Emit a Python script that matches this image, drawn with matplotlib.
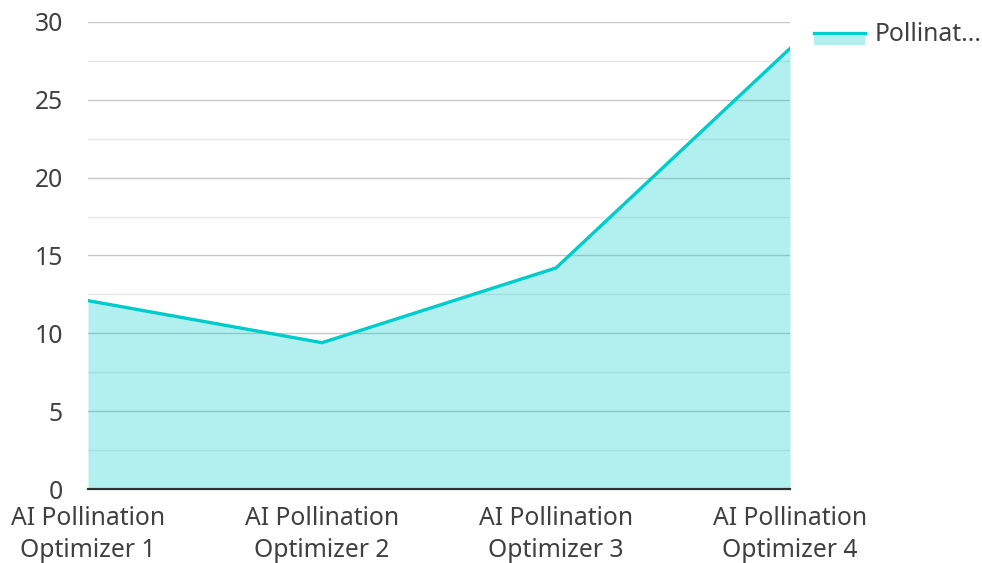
import matplotlib
matplotlib.use("Agg")
import matplotlib.pyplot as plt
from matplotlib.legend_handler import HandlerBase
from matplotlib.patches import Rectangle
from matplotlib.lines import Line2D
from matplotlib.ticker import MultipleLocator

categories = ["AI Pollination\nOptimizer 1", "AI Pollination\nOptimizer 2",
              "AI Pollination\nOptimizer 3", "AI Pollination\nOptimizer 4"]
values = [12.1, 9.4, 14.2, 28.3]
series_name = "Pollinat..."

line_col = "#00cccc"
text_col = "#404040"
fs = 17.8

plt.rcParams['font.family'] = ['Noto Sans', 'DejaVu Sans']


class FillHandler(HandlerBase):
    # legend key: line on top of a filled strip, like the area below the series
    def create_artists(self, legend, orig, xd, yd, w, h, fontsize, trans):
        top = yd + h * 0.45
        bot = yd - h * 0.25
        r = Rectangle((xd, bot), w, top - bot,
                      facecolor=line_col, alpha=0.3, edgecolor="none", transform=trans)
        l = Line2D([xd, xd + w], [top, top], color=line_col, lw=2.4, transform=trans)
        return [r, l]


fig = plt.figure(figsize=(9.82, 5.63), dpi=100)
ax = fig.add_axes([0.0896, 0.1314, 0.7149, 0.8296])

x = list(range(len(values)))
ax.fill_between(x, values, 0, color=line_col, alpha=0.3, lw=0, zorder=3)
line, = ax.plot(x, values, color=line_col, lw=2.4, zorder=4, solid_joinstyle="miter")

ax.set_xlim(0, len(values) - 1)
ax.set_ylim(0, 30)
ax.yaxis.set_major_locator(MultipleLocator(5))
ax.yaxis.set_minor_locator(MultipleLocator(2.5))
ax.grid(True, which="major", axis="y", color="#c8c8c8", lw=1, zorder=1)
ax.grid(True, which="minor", axis="y", color="#e8e8e8", lw=1, zorder=1)
ax.set_axisbelow(True)

ax.set_xticks(x)
ax.set_xticklabels(categories, linespacing=1.38)
ax.tick_params(axis="x", length=0, pad=12, labelsize=fs, colors=text_col)
ax.tick_params(axis="y", which="both", length=0, pad=18, labelsize=fs, colors=text_col)

for s in ["top", "right", "left"]:
    ax.spines[s].set_visible(False)
ax.spines["bottom"].set_color("#333333")
ax.spines["bottom"].set_linewidth(1.6)
ax.spines["bottom"].set_zorder(5)

fig.legend([line], [series_name], handler_map={line: FillHandler()},
           loc="upper left", bbox_to_anchor=(0.829, 0.961), frameon=False,
           borderpad=0, borderaxespad=0, handlelength=2.05, handletextpad=0.4,
           fontsize=fs, labelcolor=text_col)

fig.savefig("out.png", dpi=100)
